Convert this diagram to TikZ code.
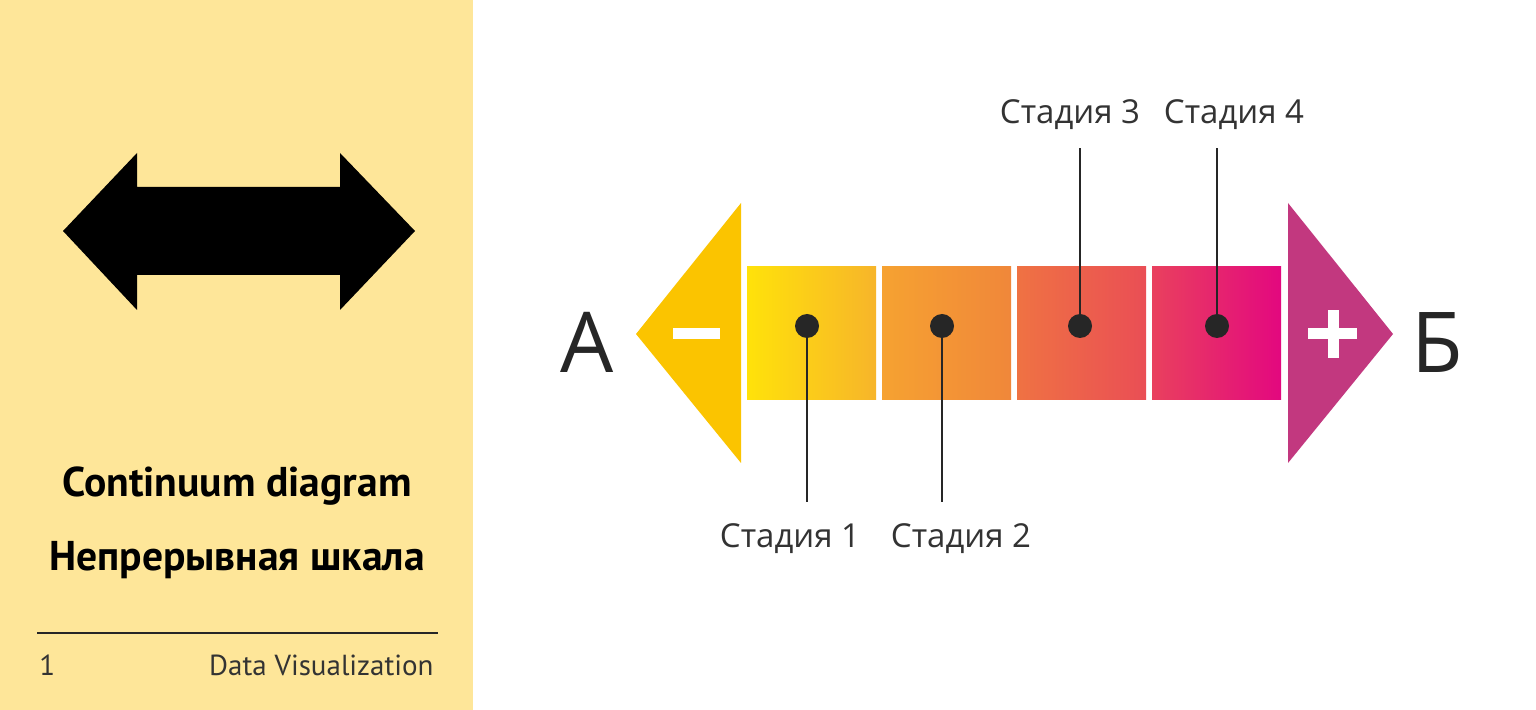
\documentclass[tikz,border=0pt]{standalone}
\usepackage{fontspec}
\setmainfont{Open Sans}
\newfontfamily\ptsans{PT Sans}
\definecolor{panelyellow}{HTML}{FEE699}
\definecolor{headyellow}{HTML}{FBC400}
\definecolor{headmagenta}{HTML}{C2387F}
\definecolor{dotgray}{HTML}{262626}
\definecolor{txtgray}{HTML}{333333}
\begin{document}
\begin{tikzpicture}[x=0.5pt,y=-0.5pt,
  stagebox/.style={rectangle,minimum width=64.5pt,minimum height=66.5pt,inner sep=0pt},
  stagedot/.style={circle,fill=dotgray,minimum size=12pt,inner sep=0pt},
  leader/.style={line width=1pt,draw=dotgray},
  stagetext/.style={anchor=base,text=txtgray,font=\fontsize{16.5}{20}\selectfont},
  pole/.style={anchor=base,text=dotgray,font=\fontsize{42}{50}\selectfont},
  heading/.style={anchor=base,text=black,font=\ptsans\bfseries\fontsize{20.8}{25}\selectfont},
  footer/.style={inner sep=0pt,text=txtgray,font=\ptsans\fontsize{14.5}{17}\selectfont}]
\useasboundingbox (0,0) rectangle (1536,710);
\fill[white] (0,0) rectangle (1536,710);
\fill[panelyellow] (0,0) rectangle (473,710);

\fill[black] (63,231) -- (137,153) -- (137,187) -- (340,187) -- (340,153)
  -- (415,231) -- (340,310) -- (340,275) -- (137,275) -- (137,310) -- cycle;
\node[heading] (title) at (237,497) {Continuum diagram};
\node[heading] (subtitle) at (237,570) {Непрерывная шкала};
\draw[line width=0.8pt,black!85] (37,633) -- (438,633);
\node[footer,anchor=base west] (page) at (39,675) {1};
\node[footer,anchor=base east] (source) at (434,675) {Data Visualization};

\fill[headyellow] (636,334) -- (741,203) -- (741,463) -- cycle;
\fill[white] (673,328) rectangle (720,339);
\fill[headmagenta] (1393,334) -- (1288,203) -- (1288,463) -- cycle;
\fill[white] (1308,328) rectangle (1357,339);
\fill[white] (1328,310) rectangle (1339,358);

\node[stagebox,left color={rgb,255:red,255;green,226;blue,10},right color={rgb,255:red,247;green,181;blue,42}] (s1) at (811.5,333.5) {};
\node[stagebox,left color={rgb,255:red,246;green,162;blue,49},right color={rgb,255:red,240;green,135;blue,58}] (s2) at (946.5,333.5) {};
\node[stagebox,left color={rgb,255:red,239;green,114;blue,67},right color={rgb,255:red,234;green,78;blue,85}] (s3) at (1081.5,333.5) {};
\node[stagebox,left color={rgb,255:red,233;green,64;blue,94},right color={rgb,255:red,227;green,8;blue,127}] (s4) at (1216.5,333.5) {};

\node[pole] (a) at (587,373) {А};
\node[pole] (b) at (1437,373) {Б};

\node[stagedot] (d1) at (807,326) {};
\node[stagedot] (d2) at (942,326) {};
\node[stagedot] (d3) at (1080,326) {};
\node[stagedot] (d4) at (1217,326) {};
\coordinate (e1) at (807,502);
\coordinate (e2) at (942,502);
\coordinate (e3) at (1080,148);
\coordinate (e4) at (1217,148);
\draw[leader] (d1) -- (e1);
\draw[leader] (d2) -- (e2);
\draw[leader] (d3) -- (e3);
\draw[leader] (d4) -- (e4);

\node[stagetext] (l1) at (790,547) {Стадия 1};
\node[stagetext] (l2) at (961,547) {Стадия 2};
\node[stagetext] (l3) at (1070,124) {Стадия 3};
\node[stagetext] (l4) at (1234,124) {Стадия 4};
\end{tikzpicture}
\end{document}
